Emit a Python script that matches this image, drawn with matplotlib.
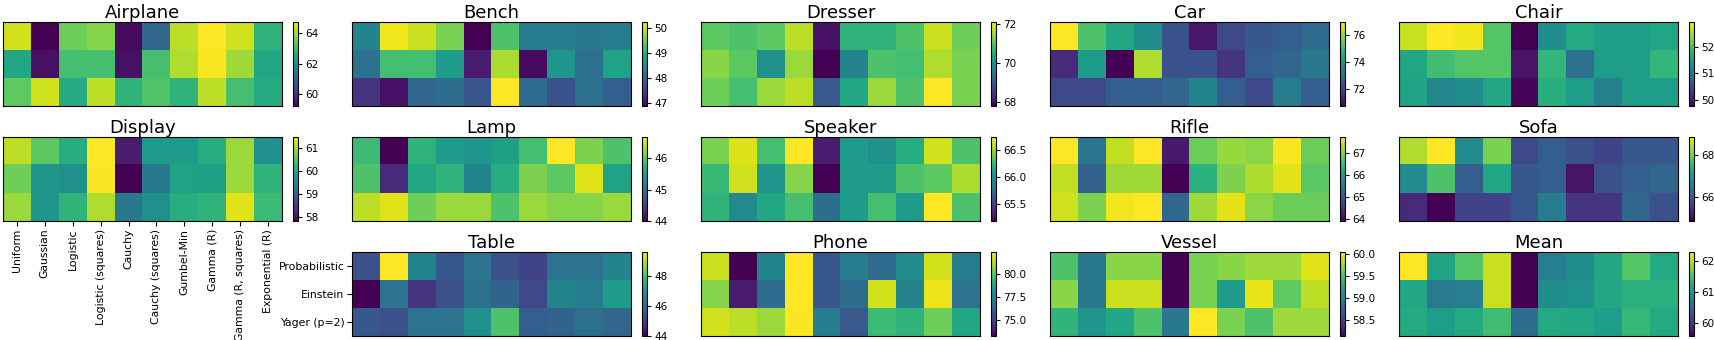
import numpy as np
import matplotlib
matplotlib.use("Agg")
import matplotlib.pyplot as plt

methods = ["Uniform", "Gaussian", "Logistic", "Logistic (squares)", "Cauchy",
           "Cauchy (squares)", "Gumbel-Min", "Gamma (R)", "Gamma (R, squares)",
           "Exponential (R)"]
combiners = ["Probabilistic", "Einstein", "Yager (p=2)"]

airplane = [[64.32, 59.25, 63.50, 63.70, 59.40, 61.05, 64.15, 64.70, 64.30, 62.80],
            [62.50, 59.50, 63.10, 63.10, 59.50, 63.10, 64.05, 64.65, 63.90, 62.50],
            [63.35, 64.30, 62.60, 64.15, 62.80, 63.20, 62.80, 64.15, 63.10, 62.60]]
bench = [[48.38, 50.17, 49.97, 49.56, 46.86, 49.29, 48.28, 48.28, 48.21, 48.28],
         [48.14, 49.23, 49.23, 48.72, 47.13, 49.83, 46.96, 48.62, 48.11, 48.82],
         [47.37, 47.03, 47.98, 48.08, 47.77, 50.24, 48.04, 47.71, 48.11, 47.87]]
dresser = [[71.00, 70.88, 71.00, 71.65, 67.99, 70.58, 70.58, 70.88, 71.74, 71.13],
           [71.31, 71.00, 69.93, 71.44, 67.78, 69.72, 70.88, 70.79, 71.56, 71.22],
           [71.13, 70.79, 71.44, 71.65, 68.98, 70.36, 71.44, 70.88, 72.08, 71.22]]
car = [[77.00, 75.24, 74.48, 73.85, 72.28, 71.14, 72.09, 72.40, 72.59, 72.91],
       [71.46, 74.17, 70.70, 76.24, 72.28, 72.28, 71.65, 72.59, 72.78, 73.22],
       [72.09, 72.09, 72.59, 72.59, 72.78, 73.54, 72.59, 72.09, 73.35, 72.59]]
chair = [[52.66, 52.92, 52.85, 52.08, 49.78, 51.32, 51.70, 51.54, 51.54, 51.64],
         [51.64, 51.96, 52.08, 52.08, 49.94, 51.86, 50.96, 51.54, 51.54, 51.86],
         [51.60, 51.22, 51.32, 51.64, 49.84, 51.76, 51.54, 51.16, 51.54, 51.54]]
display = [[61.13, 60.58, 60.11, 61.50, 58.12, 59.85, 59.85, 60.11, 60.95, 59.67],
           [60.69, 59.74, 59.67, 61.48, 57.83, 59.30, 59.96, 59.92, 60.95, 60.22],
           [60.95, 59.74, 60.22, 61.06, 59.30, 59.67, 60.11, 60.22, 61.32, 60.33]]
lamp = [[45.82, 44.00, 45.74, 45.47, 45.39, 45.52, 45.87, 46.67, 46.14, 45.92],
        [45.92, 44.32, 45.60, 45.74, 45.20, 45.66, 46.14, 46.00, 46.54, 45.55],
        [46.40, 46.54, 46.08, 46.27, 46.27, 45.92, 46.27, 46.19, 46.19, 46.27]]
speaker = [[66.43, 66.66, 66.28, 66.74, 65.31, 66.04, 65.97, 66.15, 66.63, 66.31],
           [66.24, 66.63, 66.00, 66.46, 65.19, 66.04, 66.04, 66.31, 66.35, 66.55],
           [66.20, 65.93, 66.12, 66.28, 65.75, 66.04, 66.28, 66.04, 66.74, 66.31]]
rifle = [[67.70, 65.41, 67.35, 67.70, 64.20, 66.85, 67.12, 67.04, 67.66, 66.85],
         [67.35, 65.10, 67.16, 67.16, 63.93, 66.34, 66.96, 67.24, 67.51, 66.73],
         [67.43, 66.96, 67.63, 67.70, 65.21, 67.16, 67.55, 67.04, 66.85, 66.85]]
sofa = [[68.36, 68.83, 66.79, 68.04, 65.76, 66.08, 65.88, 65.69, 65.96, 65.96],
        [66.79, 67.73, 66.08, 67.26, 65.96, 66.08, 65.10, 65.88, 66.08, 66.20],
        [65.37, 64.90, 65.69, 65.69, 65.96, 66.55, 65.49, 65.49, 66.20, 65.88]]
table = [[45.40, 49.62, 46.53, 45.52, 46.14, 45.40, 45.12, 46.14, 46.14, 46.53],
         [44.00, 46.14, 44.84, 45.40, 46.08, 45.80, 45.24, 46.53, 46.36, 47.09],
         [45.52, 45.40, 46.14, 46.14, 46.81, 48.05, 45.69, 45.80, 46.08, 45.85]]
phone = [[81.59, 73.31, 77.36, 82.31, 75.74, 77.09, 76.46, 77.63, 81.68, 77.09],
         [80.69, 74.03, 76.46, 82.30, 75.74, 76.55, 81.68, 77.36, 82.04, 76.73],
         [81.68, 81.41, 80.96, 82.25, 77.09, 75.83, 79.43, 79.16, 80.33, 78.71]]
vessel = [[59.51, 58.90, 59.70, 59.70, 58.14, 59.66, 59.70, 59.76, 59.76, 59.95],
          [59.70, 58.90, 59.89, 59.89, 58.15, 59.66, 59.19, 59.98, 59.57, 59.85],
          [59.38, 59.13, 59.28, 59.51, 58.90, 60.04, 59.66, 59.51, 59.76, 59.76]]
mean = [[62.30, 61.17, 61.58, 62.08, 59.59, 60.75, 60.92, 61.20, 61.58, 61.25],
        [61.20, 60.70, 60.75, 62.08, 59.60, 60.92, 60.98, 61.20, 61.31, 61.31],
        [61.25, 61.11, 61.25, 61.47, 60.56, 61.25, 61.20, 61.11, 61.39, 61.25]]

cbar_ticks = {
    "Airplane": [60, 62, 64], "Bench": [47, 48, 49, 50], "Dresser": [68, 70, 72],
    "Car": [72, 74, 76], "Chair": [50, 51, 52], "Display": [58, 59, 60, 61],
    "Lamp": [44, 45, 46], "Speaker": [65.5, 66.0, 66.5], "Rifle": [64, 65, 66, 67],
    "Sofa": [66, 68], "Table": [44, 46, 48], "Phone": [75.0, 77.5, 80.0],
    "Vessel": [58.5, 59.0, 59.5, 60.0], "Mean": [60, 61, 62],
}
cbar_fmt = {"Speaker": "%.1f", "Phone": "%.1f", "Vessel": "%.1f"}

panels = [
    ("Airplane", airplane, 0, 0), ("Bench", bench, 0, 1), ("Dresser", dresser, 0, 2),
    ("Car", car, 0, 3), ("Chair", chair, 0, 4),
    ("Display", display, 1, 0), ("Lamp", lamp, 1, 1), ("Speaker", speaker, 1, 2),
    ("Rifle", rifle, 1, 3), ("Sofa", sofa, 1, 4),
    ("Table", table, 2, 1), ("Phone", phone, 2, 2), ("Vessel", vessel, 2, 3),
    ("Mean", mean, 2, 4),
]

W, H = 1714, 340
fig = plt.figure(figsize=(W / 100, H / 100), dpi=100)

col_left = [3, 352, 701, 1050, 1399]
row_top = [22, 137, 252]
ax_w, ax_h = 279, 84
cb_off, cb_w = 290, 5

for name, data, r, c in panels:
    left = col_left[c]
    top = row_top[r]
    ax = fig.add_axes([left / W, 1 - (top + ax_h) / H, ax_w / W, ax_h / H])
    arr = np.array(data)
    im = ax.imshow(arr, cmap="viridis", aspect="auto", interpolation="nearest")
    ax.set_title(name, fontsize=13, pad=3)
    if name == "Display":
        ax.set_xticks(range(len(methods)))
        ax.set_xticklabels(methods, rotation=90, fontsize=7.8)
        ax.tick_params(axis="x", length=3.5, pad=2)
    else:
        ax.set_xticks([])
    if name == "Table":
        ax.set_yticks(range(len(combiners)))
        ax.set_yticklabels(combiners, fontsize=7.8)
        ax.tick_params(axis="y", length=3.5, pad=2)
    else:
        ax.set_yticks([])
    cax = fig.add_axes([(left + cb_off) / W, 1 - (top + ax_h) / H, cb_w / W, ax_h / H])
    cb = fig.colorbar(im, cax=cax, ticks=cbar_ticks[name],
                      format=cbar_fmt.get(name, "%d"))
    cb.ax.tick_params(labelsize=7.5, length=3, pad=2)

fig.savefig("out.png", dpi=100)
